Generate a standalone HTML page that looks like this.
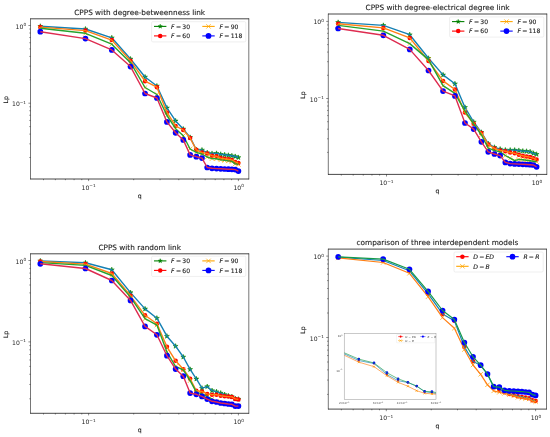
<!DOCTYPE html>
<html><head><meta charset="utf-8"><title>CPPS percolation plots</title>
<style>html,body{margin:0;padding:0;background:#fff}svg{display:block}text{font-family:'DejaVu Sans','Liberation Sans',sans-serif}</style>
</head><body>
<svg width="550" height="437" viewBox="0 0 550 437">
<rect width="550" height="437" fill="#fff"/>
<g id="a">
<clipPath id="clipa"><rect x="30.5" y="18.8" width="218.3" height="160.2"/></clipPath>
<g clip-path="url(#clipa)">
<path d="M40.33,23.70L40.92,25.50L42.80,25.50L41.28,26.61L41.86,28.40L40.33,27.29L38.80,28.40L39.39,26.61L37.86,25.50L39.75,25.50Z" fill="#008000" stroke="#008000" stroke-width="0.5" stroke-linejoin="round"/>
<path d="M85.43,26.40L86.01,28.20L87.90,28.20L86.37,29.31L86.95,31.10L85.43,29.99L83.90,31.10L84.48,29.31L82.95,28.20L84.84,28.20Z" fill="#008000" stroke="#008000" stroke-width="0.5" stroke-linejoin="round"/>
<path d="M111.80,35.20L112.39,37.00L114.28,37.00L112.75,38.11L113.33,39.90L111.80,38.79L110.28,39.90L110.86,38.11L109.33,37.00L111.22,37.00Z" fill="#008000" stroke="#008000" stroke-width="0.5" stroke-linejoin="round"/>
<path d="M130.52,56.40L131.10,58.20L132.99,58.20L131.46,59.31L132.05,61.10L130.52,59.99L128.99,61.10L129.58,59.31L128.05,58.20L129.94,58.20Z" fill="#008000" stroke="#008000" stroke-width="0.5" stroke-linejoin="round"/>
<path d="M145.04,74.40L145.62,76.20L147.51,76.20L145.98,77.31L146.57,79.10L145.04,77.99L143.51,79.10L144.09,77.31L142.56,76.20L144.45,76.20Z" fill="#008000" stroke="#008000" stroke-width="0.5" stroke-linejoin="round"/>
<path d="M156.90,83.40L157.48,85.20L159.37,85.20L157.84,86.31L158.43,88.10L156.90,86.99L155.37,88.10L155.95,86.31L154.43,85.20L156.31,85.20Z" fill="#008000" stroke="#008000" stroke-width="0.5" stroke-linejoin="round"/>
<path d="M166.93,105.30L167.51,107.10L169.40,107.10L167.87,108.21L168.46,110.00L166.93,108.89L165.40,110.00L165.98,108.21L164.45,107.10L166.34,107.10Z" fill="#008000" stroke="#008000" stroke-width="0.5" stroke-linejoin="round"/>
<path d="M175.61,118.30L176.20,120.10L178.09,120.10L176.56,121.21L177.14,123.00L175.61,121.89L174.09,123.00L174.67,121.21L173.14,120.10L175.03,120.10Z" fill="#008000" stroke="#008000" stroke-width="0.5" stroke-linejoin="round"/>
<path d="M183.28,126.40L183.86,128.20L185.75,128.20L184.22,129.31L184.81,131.10L183.28,129.99L181.75,131.10L182.33,129.31L180.80,128.20L182.69,128.20Z" fill="#008000" stroke="#008000" stroke-width="0.5" stroke-linejoin="round"/>
<path d="M190.13,134.80L190.72,136.60L192.60,136.60L191.08,137.71L191.66,139.50L190.13,138.39L188.60,139.50L189.19,137.71L187.66,136.60L189.55,136.60Z" fill="#008000" stroke="#008000" stroke-width="0.5" stroke-linejoin="round"/>
<path d="M196.33,147.20L196.92,149.00L198.80,149.00L197.28,150.11L197.86,151.90L196.33,150.79L194.80,151.90L195.39,150.11L193.86,149.00L195.75,149.00Z" fill="#008000" stroke="#008000" stroke-width="0.5" stroke-linejoin="round"/>
<path d="M201.99,147.40L202.58,149.20L204.47,149.20L202.94,150.31L203.52,152.10L201.99,150.99L200.46,152.10L201.05,150.31L199.52,149.20L201.41,149.20Z" fill="#008000" stroke="#008000" stroke-width="0.5" stroke-linejoin="round"/>
<path d="M207.20,150.10L207.78,151.90L209.67,151.90L208.14,153.01L208.73,154.80L207.20,153.69L205.67,154.80L206.26,153.01L204.73,151.90L206.62,151.90Z" fill="#008000" stroke="#008000" stroke-width="0.5" stroke-linejoin="round"/>
<path d="M212.02,150.90L212.61,152.70L214.49,152.70L212.97,153.81L213.55,155.60L212.02,154.49L210.49,155.60L211.08,153.81L209.55,152.70L211.44,152.70Z" fill="#008000" stroke="#008000" stroke-width="0.5" stroke-linejoin="round"/>
<path d="M216.51,150.80L217.09,152.60L218.98,152.60L217.45,153.71L218.04,155.50L216.51,154.39L214.98,155.50L215.57,153.71L214.04,152.60L215.93,152.60Z" fill="#008000" stroke="#008000" stroke-width="0.5" stroke-linejoin="round"/>
<path d="M220.71,151.70L221.29,153.50L223.18,153.50L221.65,154.61L222.24,156.40L220.71,155.29L219.18,156.40L219.76,154.61L218.24,153.50L220.12,153.50Z" fill="#008000" stroke="#008000" stroke-width="0.5" stroke-linejoin="round"/>
<path d="M224.65,152.20L225.24,154.00L227.13,154.00L225.60,155.11L226.18,156.90L224.65,155.79L223.12,156.90L223.71,155.11L222.18,154.00L224.07,154.00Z" fill="#008000" stroke="#008000" stroke-width="0.5" stroke-linejoin="round"/>
<path d="M228.37,152.70L228.96,154.50L230.84,154.50L229.32,155.61L229.90,157.40L228.37,156.29L226.84,157.40L227.43,155.61L225.90,154.50L227.79,154.50Z" fill="#008000" stroke="#008000" stroke-width="0.5" stroke-linejoin="round"/>
<path d="M231.89,153.20L232.47,155.00L234.36,155.00L232.83,156.11L233.42,157.90L231.89,156.79L230.36,157.90L230.94,156.11L229.42,155.00L231.31,155.00Z" fill="#008000" stroke="#008000" stroke-width="0.5" stroke-linejoin="round"/>
<path d="M235.23,153.90L235.81,155.70L237.70,155.70L236.17,156.81L236.75,158.60L235.23,157.49L233.70,158.60L234.28,156.81L232.75,155.70L234.64,155.70Z" fill="#008000" stroke="#008000" stroke-width="0.5" stroke-linejoin="round"/>
<path d="M238.40,154.90L238.98,156.70L240.87,156.70L239.34,157.81L239.93,159.60L238.40,158.49L236.87,159.60L237.46,157.81L235.93,156.70L237.82,156.70Z" fill="#008000" stroke="#008000" stroke-width="0.5" stroke-linejoin="round"/>
<polyline points="40.33,26.30 85.43,29.00 111.80,37.80 130.52,59.00 145.04,77.00 156.90,86.00 166.93,107.90 175.61,120.90 183.28,129.00 190.13,137.40 196.33,149.80 201.99,150.00 207.20,152.70 212.02,153.50 216.51,153.40 220.71,154.30 224.65,154.80 228.37,155.30 231.89,155.80 235.23,156.50 238.40,157.50" fill="none" stroke="#1580b4" stroke-width="1.4" stroke-linejoin="round" stroke-linecap="butt"/>
<circle cx="40.33" cy="27.10" r="2.25" fill="#ff0000"/>
<circle cx="85.43" cy="30.60" r="2.25" fill="#ff0000"/>
<circle cx="111.80" cy="40.10" r="2.25" fill="#ff0000"/>
<circle cx="130.52" cy="60.80" r="2.25" fill="#ff0000"/>
<circle cx="145.04" cy="81.20" r="2.25" fill="#ff0000"/>
<circle cx="156.90" cy="87.20" r="2.25" fill="#ff0000"/>
<circle cx="166.93" cy="112.40" r="2.25" fill="#ff0000"/>
<circle cx="175.61" cy="126.00" r="2.25" fill="#ff0000"/>
<circle cx="183.28" cy="130.00" r="2.25" fill="#ff0000"/>
<circle cx="190.13" cy="138.00" r="2.25" fill="#ff0000"/>
<circle cx="196.33" cy="149.80" r="2.25" fill="#ff0000"/>
<circle cx="201.99" cy="152.60" r="2.25" fill="#ff0000"/>
<circle cx="207.20" cy="153.50" r="2.25" fill="#ff0000"/>
<circle cx="212.02" cy="155.70" r="2.25" fill="#ff0000"/>
<circle cx="216.51" cy="156.30" r="2.25" fill="#ff0000"/>
<circle cx="220.71" cy="158.10" r="2.25" fill="#ff0000"/>
<circle cx="224.65" cy="158.80" r="2.25" fill="#ff0000"/>
<circle cx="228.37" cy="159.30" r="2.25" fill="#ff0000"/>
<circle cx="231.89" cy="159.90" r="2.25" fill="#ff0000"/>
<circle cx="235.23" cy="161.90" r="2.25" fill="#ff0000"/>
<circle cx="238.40" cy="162.90" r="2.25" fill="#ff0000"/>
<polyline points="40.33,27.10 85.43,30.60 111.80,40.10 130.52,60.80 145.04,81.20 156.90,87.20 166.93,112.40 175.61,126.00 183.28,130.00 190.13,138.00 196.33,149.80 201.99,152.60 207.20,153.50 212.02,155.70 216.51,156.30 220.71,158.10 224.65,158.80 228.37,159.30 231.89,159.90 235.23,161.90 238.40,162.90" fill="none" stroke="#ff7f14" stroke-width="1.4" stroke-linejoin="round" stroke-linecap="butt"/>
<path d="M38.13,26.10L42.53,30.50M38.13,30.50L42.53,26.10" stroke="#ffa500" stroke-width="0.75" fill="none"/>
<path d="M83.23,31.10L87.63,35.50M83.23,35.50L87.63,31.10" stroke="#ffa500" stroke-width="0.75" fill="none"/>
<path d="M109.60,42.00L114.00,46.40M109.60,46.40L114.00,42.00" stroke="#ffa500" stroke-width="0.75" fill="none"/>
<path d="M128.32,60.50L132.72,64.90M128.32,64.90L132.72,60.50" stroke="#ffa500" stroke-width="0.75" fill="none"/>
<path d="M142.84,85.30L147.24,89.70M142.84,89.70L147.24,85.30" stroke="#ffa500" stroke-width="0.75" fill="none"/>
<path d="M154.70,92.30L159.10,96.70M154.70,96.70L159.10,92.30" stroke="#ffa500" stroke-width="0.75" fill="none"/>
<path d="M164.73,113.30L169.13,117.70M164.73,117.70L169.13,113.30" stroke="#ffa500" stroke-width="0.75" fill="none"/>
<path d="M173.41,126.50L177.81,130.90M173.41,130.90L177.81,126.50" stroke="#ffa500" stroke-width="0.75" fill="none"/>
<path d="M181.08,133.50L185.48,137.90M181.08,137.90L185.48,133.50" stroke="#ffa500" stroke-width="0.75" fill="none"/>
<path d="M187.93,146.80L192.33,151.20M187.93,151.20L192.33,146.80" stroke="#ffa500" stroke-width="0.75" fill="none"/>
<path d="M194.13,150.20L198.53,154.60M194.13,154.60L198.53,150.20" stroke="#ffa500" stroke-width="0.75" fill="none"/>
<path d="M199.79,151.80L204.19,156.20M199.79,156.20L204.19,151.80" stroke="#ffa500" stroke-width="0.75" fill="none"/>
<path d="M205.00,154.80L209.40,159.20M205.00,159.20L209.40,154.80" stroke="#ffa500" stroke-width="0.75" fill="none"/>
<path d="M209.82,156.40L214.22,160.80M209.82,160.80L214.22,156.40" stroke="#ffa500" stroke-width="0.75" fill="none"/>
<path d="M214.31,156.60L218.71,161.00M214.31,161.00L218.71,156.60" stroke="#ffa500" stroke-width="0.75" fill="none"/>
<path d="M218.51,157.70L222.91,162.10M218.51,162.10L222.91,157.70" stroke="#ffa500" stroke-width="0.75" fill="none"/>
<path d="M222.45,158.20L226.85,162.60M222.45,162.60L226.85,158.20" stroke="#ffa500" stroke-width="0.75" fill="none"/>
<path d="M226.17,158.70L230.57,163.10M226.17,163.10L230.57,158.70" stroke="#ffa500" stroke-width="0.75" fill="none"/>
<path d="M229.69,159.20L234.09,163.60M229.69,163.60L234.09,159.20" stroke="#ffa500" stroke-width="0.75" fill="none"/>
<path d="M233.03,161.70L237.43,166.10M233.03,166.10L237.43,161.70" stroke="#ffa500" stroke-width="0.75" fill="none"/>
<path d="M236.20,162.20L240.60,166.60M236.20,166.60L240.60,162.20" stroke="#ffa500" stroke-width="0.75" fill="none"/>
<polyline points="40.33,28.30 85.43,33.30 111.80,44.20 130.52,62.70 145.04,87.50 156.90,94.50 166.93,115.50 175.61,128.70 183.28,135.70 190.13,149.00 196.33,152.40 201.99,154.00 207.20,157.00 212.02,158.60 216.51,158.80 220.71,159.90 224.65,160.40 228.37,160.90 231.89,161.40 235.23,163.90 238.40,164.40" fill="none" stroke="#26a32d" stroke-width="1.4" stroke-linejoin="round" stroke-linecap="butt"/>
<circle cx="40.33" cy="31.70" r="2.85" fill="#0000ff"/>
<circle cx="85.43" cy="38.60" r="2.85" fill="#0000ff"/>
<circle cx="111.80" cy="49.90" r="2.85" fill="#0000ff"/>
<circle cx="130.52" cy="66.60" r="2.85" fill="#0000ff"/>
<circle cx="145.04" cy="93.50" r="2.85" fill="#0000ff"/>
<circle cx="156.90" cy="98.00" r="2.85" fill="#0000ff"/>
<circle cx="166.93" cy="121.90" r="2.85" fill="#0000ff"/>
<circle cx="175.61" cy="132.80" r="2.85" fill="#0000ff"/>
<circle cx="183.28" cy="139.90" r="2.85" fill="#0000ff"/>
<circle cx="190.13" cy="154.90" r="2.85" fill="#0000ff"/>
<circle cx="196.33" cy="156.70" r="2.85" fill="#0000ff"/>
<circle cx="201.99" cy="158.10" r="2.85" fill="#0000ff"/>
<circle cx="207.20" cy="167.50" r="2.85" fill="#0000ff"/>
<circle cx="212.02" cy="168.30" r="2.85" fill="#0000ff"/>
<circle cx="216.51" cy="168.60" r="2.85" fill="#0000ff"/>
<circle cx="220.71" cy="168.80" r="2.85" fill="#0000ff"/>
<circle cx="224.65" cy="169.00" r="2.85" fill="#0000ff"/>
<circle cx="228.37" cy="169.20" r="2.85" fill="#0000ff"/>
<circle cx="231.89" cy="169.30" r="2.85" fill="#0000ff"/>
<circle cx="235.23" cy="169.60" r="2.85" fill="#0000ff"/>
<circle cx="238.40" cy="171.10" r="2.85" fill="#0000ff"/>
<polyline points="40.33,31.70 85.43,38.60 111.80,49.90 130.52,66.60 145.04,93.50 156.90,98.00 166.93,121.90 175.61,132.80 183.28,139.90 190.13,154.90 196.33,156.70 201.99,158.10 207.20,167.50 212.02,168.30 216.51,168.60 220.71,168.80 224.65,169.00 228.37,169.20 231.89,169.30 235.23,169.60 238.40,171.10" fill="none" stroke="#de2c50" stroke-width="1.4" stroke-linejoin="round" stroke-linecap="butt"/>
</g>
<path d="M30.5,18.5V179.3M248.8,18.5V179.3" fill="none" stroke="#1a1a1a" stroke-width="0.6"/>
<path d="M30.2,18.8H249.10000000000002M30.2,179.0H249.10000000000002" fill="none" stroke="#1a1a1a" stroke-width="0.8"/>
<path d="M88.60,179.0v2.1M30.5,103.20h-2.1M238.40,179.0v2.1M30.5,25.50h-2.1M30.5,157.51h-1.2M30.5,143.83h-1.2M30.5,134.12h-1.2M43.51,179.0v1.2M30.5,126.59h-1.2M55.37,179.0v1.2M30.5,120.44h-1.2M65.40,179.0v1.2M30.5,115.24h-1.2M74.08,179.0v1.2M30.5,110.73h-1.2M81.75,179.0v1.2M30.5,106.76h-1.2M133.69,179.0v1.2M30.5,79.81h-1.2M160.07,179.0v1.2M30.5,66.13h-1.2M178.79,179.0v1.2M30.5,56.42h-1.2M193.31,179.0v1.2M30.5,48.89h-1.2M205.17,179.0v1.2M30.5,42.74h-1.2M215.20,179.0v1.2M30.5,37.54h-1.2M223.88,179.0v1.2M30.5,33.03h-1.2M231.55,179.0v1.2M30.5,29.06h-1.2" stroke="#1a1a1a" stroke-width="0.5" fill="none"/>
<text x="88.60" y="190.00" font-size="6.1" text-anchor="middle" fill="#1c1c1c">10<tspan font-size="4.27" dy="-2.56">−1</tspan></text>
<text x="238.70" y="190.00" font-size="6.1" text-anchor="middle" fill="#1c1c1c">10<tspan font-size="4.27" dy="-2.56">0</tspan></text>
<text x="26.10" y="28.50" font-size="6.1" text-anchor="end" fill="#1c1c1c">10<tspan font-size="4.27" dy="-2.56">0</tspan></text>
<text x="26.10" y="106.20" font-size="6.1" text-anchor="end" fill="#1c1c1c">10<tspan font-size="4.27" dy="-2.56">−1</tspan></text>
<text x="139.65" y="198.00" font-size="6.1" text-anchor="middle" fill="#1c1c1c" stroke="#1c1c1c" stroke-width="0.12">q</text>
<text transform="translate(7.50,99.80) rotate(-90)" font-size="6.1" text-anchor="middle" fill="#1c1c1c" stroke="#1c1c1c" stroke-width="0.12">Lp</text>
<text x="139.65" y="14.60" font-size="7.33" text-anchor="middle" fill="#1c1c1c" stroke="#1c1c1c" stroke-width="0.12">CPPS with degree-betweenness link</text>
<rect x="151.60000000000002" y="21.7" width="94.20" height="20.20" rx="1.2" fill="#fff" fill-opacity="0.8" stroke="#dedede" stroke-width="0.5"/>
<path d="M154.00,26.40h12.4" stroke="#008000" stroke-width="1.1" fill="none"/>
<path d="M160.20,24.20L160.69,25.72L162.29,25.72L161.00,26.66L161.49,28.18L160.20,27.24L158.91,28.18L159.40,26.66L158.11,25.72L159.71,25.72Z" fill="#008000" stroke="#008000" stroke-width="0.5" stroke-linejoin="round"/>
<text x="171.10" y="28.60" font-size="6.1" fill="#1c1c1c" stroke="#1c1c1c" stroke-width="0.12"><tspan font-style="oblique">F</tspan><tspan dx="1.3">=</tspan><tspan dx="1.3">30</tspan></text>
<path d="M154.00,35.90h12.4" stroke="#ff0000" stroke-width="1.1" fill="none"/>
<circle cx="160.20" cy="35.90" r="2.25" fill="#ff0000"/>
<text x="171.10" y="38.10" font-size="6.1" fill="#1c1c1c" stroke="#1c1c1c" stroke-width="0.12"><tspan font-style="oblique">F</tspan><tspan dx="1.3">=</tspan><tspan dx="1.3">60</tspan></text>
<path d="M202.30,26.40h12.4" stroke="#ffa500" stroke-width="1.1" fill="none"/>
<path d="M206.30,24.20L210.70,28.60M206.30,28.60L210.70,24.20" stroke="#ffa500" stroke-width="0.75" fill="none"/>
<text x="219.40" y="28.60" font-size="6.1" fill="#1c1c1c" stroke="#1c1c1c" stroke-width="0.12"><tspan font-style="oblique">F</tspan><tspan dx="1.3">=</tspan><tspan dx="1.3">90</tspan></text>
<path d="M202.30,35.90h12.4" stroke="#0000ff" stroke-width="1.1" fill="none"/>
<circle cx="208.50" cy="35.90" r="2.85" fill="#0000ff"/>
<text x="219.40" y="38.10" font-size="6.1" fill="#1c1c1c" stroke="#1c1c1c" stroke-width="0.12"><tspan font-style="oblique">F</tspan><tspan dx="1.3">=</tspan><tspan dx="1.3">118</tspan></text>
</g>
<g id="b">
<clipPath id="clipb"><rect x="328.3" y="14.0" width="218.49999999999994" height="160.4"/></clipPath>
<g clip-path="url(#clipb)">
<path d="M338.13,19.80L338.72,21.60L340.61,21.60L339.08,22.71L339.66,24.50L338.13,23.39L336.61,24.50L337.19,22.71L335.66,21.60L337.55,21.60Z" fill="#008000" stroke="#008000" stroke-width="0.5" stroke-linejoin="round"/>
<path d="M383.32,22.80L383.90,24.60L385.79,24.60L384.26,25.71L384.85,27.50L383.32,26.39L381.79,27.50L382.37,25.71L380.85,24.60L382.74,24.60Z" fill="#008000" stroke="#008000" stroke-width="0.5" stroke-linejoin="round"/>
<path d="M409.75,32.10L410.33,33.90L412.22,33.90L410.70,35.01L411.28,36.80L409.75,35.69L408.22,36.80L408.81,35.01L407.28,33.90L409.17,33.90Z" fill="#008000" stroke="#008000" stroke-width="0.5" stroke-linejoin="round"/>
<path d="M428.50,55.70L429.09,57.50L430.98,57.50L429.45,58.61L430.03,60.40L428.50,59.29L426.98,60.40L427.56,58.61L426.03,57.50L427.92,57.50Z" fill="#008000" stroke="#008000" stroke-width="0.5" stroke-linejoin="round"/>
<path d="M443.05,72.30L443.63,74.10L445.52,74.10L443.99,75.21L444.58,77.00L443.05,75.89L441.52,77.00L442.11,75.21L440.58,74.10L442.47,74.10Z" fill="#008000" stroke="#008000" stroke-width="0.5" stroke-linejoin="round"/>
<path d="M454.94,81.20L455.52,83.00L457.41,83.00L455.88,84.11L456.46,85.90L454.94,84.79L453.41,85.90L453.99,84.11L452.46,83.00L454.35,83.00Z" fill="#008000" stroke="#008000" stroke-width="0.5" stroke-linejoin="round"/>
<path d="M464.98,104.80L465.57,106.60L467.46,106.60L465.93,107.71L466.51,109.50L464.98,108.39L463.46,109.50L464.04,107.71L462.51,106.60L464.40,106.60Z" fill="#008000" stroke="#008000" stroke-width="0.5" stroke-linejoin="round"/>
<path d="M473.69,119.40L474.27,121.20L476.16,121.20L474.63,122.31L475.22,124.10L473.69,122.99L472.16,124.10L472.74,122.31L471.22,121.20L473.10,121.20Z" fill="#008000" stroke="#008000" stroke-width="0.5" stroke-linejoin="round"/>
<path d="M481.37,129.70L481.95,131.50L483.84,131.50L482.31,132.61L482.89,134.40L481.37,133.29L479.84,134.40L480.42,132.61L478.89,131.50L480.78,131.50Z" fill="#008000" stroke="#008000" stroke-width="0.5" stroke-linejoin="round"/>
<path d="M488.23,141.10L488.82,142.90L490.71,142.90L489.18,144.01L489.76,145.80L488.23,144.69L486.71,145.80L487.29,144.01L485.76,142.90L487.65,142.90Z" fill="#008000" stroke="#008000" stroke-width="0.5" stroke-linejoin="round"/>
<path d="M494.45,144.70L495.03,146.50L496.92,146.50L495.39,147.61L495.98,149.40L494.45,148.29L492.92,149.40L493.50,147.61L491.98,146.50L493.86,146.50Z" fill="#008000" stroke="#008000" stroke-width="0.5" stroke-linejoin="round"/>
<path d="M500.12,146.50L500.70,148.30L502.59,148.30L501.06,149.41L501.65,151.20L500.12,150.09L498.59,151.20L499.18,149.41L497.65,148.30L499.54,148.30Z" fill="#008000" stroke="#008000" stroke-width="0.5" stroke-linejoin="round"/>
<path d="M505.34,147.40L505.92,149.20L507.81,149.20L506.28,150.31L506.87,152.10L505.34,150.99L503.81,152.10L504.39,150.31L502.87,149.20L504.75,149.20Z" fill="#008000" stroke="#008000" stroke-width="0.5" stroke-linejoin="round"/>
<path d="M510.17,147.50L510.75,149.30L512.64,149.30L511.11,150.41L511.70,152.20L510.17,151.09L508.64,152.20L509.22,150.41L507.70,149.30L509.58,149.30Z" fill="#008000" stroke="#008000" stroke-width="0.5" stroke-linejoin="round"/>
<path d="M514.67,147.50L515.25,149.30L517.14,149.30L515.61,150.41L516.19,152.20L514.67,151.09L513.14,152.20L513.72,150.41L512.19,149.30L514.08,149.30Z" fill="#008000" stroke="#008000" stroke-width="0.5" stroke-linejoin="round"/>
<path d="M518.87,147.90L519.46,149.70L521.35,149.70L519.82,150.81L520.40,152.60L518.87,151.49L517.35,152.60L517.93,150.81L516.40,149.70L518.29,149.70Z" fill="#008000" stroke="#008000" stroke-width="0.5" stroke-linejoin="round"/>
<path d="M522.83,148.50L523.41,150.30L525.30,150.30L523.77,151.41L524.35,153.20L522.83,152.09L521.30,153.20L521.88,151.41L520.35,150.30L522.24,150.30Z" fill="#008000" stroke="#008000" stroke-width="0.5" stroke-linejoin="round"/>
<path d="M526.55,148.70L527.14,150.50L529.02,150.50L527.50,151.61L528.08,153.40L526.55,152.29L525.02,153.40L525.61,151.61L524.08,150.50L525.97,150.50Z" fill="#008000" stroke="#008000" stroke-width="0.5" stroke-linejoin="round"/>
<path d="M530.08,149.20L530.66,151.00L532.55,151.00L531.02,152.11L531.60,153.90L530.08,152.79L528.55,153.90L529.13,152.11L527.60,151.00L529.49,151.00Z" fill="#008000" stroke="#008000" stroke-width="0.5" stroke-linejoin="round"/>
<path d="M533.42,150.70L534.00,152.50L535.89,152.50L534.36,153.61L534.95,155.40L533.42,154.29L531.89,155.40L532.47,153.61L530.95,152.50L532.84,152.50Z" fill="#008000" stroke="#008000" stroke-width="0.5" stroke-linejoin="round"/>
<path d="M536.60,151.70L537.18,153.50L539.07,153.50L537.54,154.61L538.13,156.40L536.60,155.29L535.07,156.40L535.66,154.61L534.13,153.50L536.02,153.50Z" fill="#008000" stroke="#008000" stroke-width="0.5" stroke-linejoin="round"/>
<polyline points="338.13,22.40 383.32,25.40 409.75,34.70 428.50,58.30 443.05,74.90 454.94,83.80 464.98,107.40 473.69,122.00 481.37,132.30 488.23,143.70 494.45,147.30 500.12,149.10 505.34,150.00 510.17,150.10 514.67,150.10 518.87,150.50 522.83,151.10 526.55,151.30 530.08,151.80 533.42,153.30 536.60,154.30" fill="none" stroke="#1580b4" stroke-width="1.4" stroke-linejoin="round" stroke-linecap="butt"/>
<circle cx="338.13" cy="23.70" r="2.25" fill="#ff0000"/>
<circle cx="383.32" cy="27.90" r="2.25" fill="#ff0000"/>
<circle cx="409.75" cy="37.90" r="2.25" fill="#ff0000"/>
<circle cx="428.50" cy="61.00" r="2.25" fill="#ff0000"/>
<circle cx="443.05" cy="80.90" r="2.25" fill="#ff0000"/>
<circle cx="454.94" cy="89.50" r="2.25" fill="#ff0000"/>
<circle cx="464.98" cy="112.50" r="2.25" fill="#ff0000"/>
<circle cx="473.69" cy="123.70" r="2.25" fill="#ff0000"/>
<circle cx="481.37" cy="132.90" r="2.25" fill="#ff0000"/>
<circle cx="488.23" cy="144.40" r="2.25" fill="#ff0000"/>
<circle cx="494.45" cy="148.40" r="2.25" fill="#ff0000"/>
<circle cx="500.12" cy="150.40" r="2.25" fill="#ff0000"/>
<circle cx="505.34" cy="151.30" r="2.25" fill="#ff0000"/>
<circle cx="510.17" cy="152.50" r="2.25" fill="#ff0000"/>
<circle cx="514.67" cy="153.30" r="2.25" fill="#ff0000"/>
<circle cx="518.87" cy="154.80" r="2.25" fill="#ff0000"/>
<circle cx="522.83" cy="155.80" r="2.25" fill="#ff0000"/>
<circle cx="526.55" cy="156.50" r="2.25" fill="#ff0000"/>
<circle cx="530.08" cy="157.10" r="2.25" fill="#ff0000"/>
<circle cx="533.42" cy="158.20" r="2.25" fill="#ff0000"/>
<circle cx="536.60" cy="159.40" r="2.25" fill="#ff0000"/>
<polyline points="338.13,23.70 383.32,27.90 409.75,37.90 428.50,61.00 443.05,80.90 454.94,89.50 464.98,112.50 473.69,123.70 481.37,132.90 488.23,144.40 494.45,148.40 500.12,150.40 505.34,151.30 510.17,152.50 514.67,153.30 518.87,154.80 522.83,155.80 526.55,156.50 530.08,157.10 533.42,158.20 536.60,159.40" fill="none" stroke="#ff7f14" stroke-width="1.4" stroke-linejoin="round" stroke-linecap="butt"/>
<path d="M335.93,23.20L340.33,27.60M335.93,27.60L340.33,23.20" stroke="#ffa500" stroke-width="0.75" fill="none"/>
<path d="M381.12,28.90L385.52,33.30M381.12,33.30L385.52,28.90" stroke="#ffa500" stroke-width="0.75" fill="none"/>
<path d="M407.55,41.40L411.95,45.80M407.55,45.80L411.95,41.40" stroke="#ffa500" stroke-width="0.75" fill="none"/>
<path d="M426.30,57.40L430.70,61.80M426.30,61.80L430.70,57.40" stroke="#ffa500" stroke-width="0.75" fill="none"/>
<path d="M440.85,83.50L445.25,87.90M440.85,87.90L445.25,83.50" stroke="#ffa500" stroke-width="0.75" fill="none"/>
<path d="M452.74,91.20L457.14,95.60M452.74,95.60L457.14,91.20" stroke="#ffa500" stroke-width="0.75" fill="none"/>
<path d="M462.78,109.00L467.18,113.40M462.78,113.40L467.18,109.00" stroke="#ffa500" stroke-width="0.75" fill="none"/>
<path d="M471.49,121.80L475.89,126.20M471.49,126.20L475.89,121.80" stroke="#ffa500" stroke-width="0.75" fill="none"/>
<path d="M479.17,132.60L483.57,137.00M479.17,137.00L483.57,132.60" stroke="#ffa500" stroke-width="0.75" fill="none"/>
<path d="M486.03,146.00L490.43,150.40M486.03,150.40L490.43,146.00" stroke="#ffa500" stroke-width="0.75" fill="none"/>
<path d="M492.25,148.30L496.65,152.70M492.25,152.70L496.65,148.30" stroke="#ffa500" stroke-width="0.75" fill="none"/>
<path d="M497.92,149.70L502.32,154.10M497.92,154.10L502.32,149.70" stroke="#ffa500" stroke-width="0.75" fill="none"/>
<path d="M503.14,153.30L507.54,157.70M503.14,157.70L507.54,153.30" stroke="#ffa500" stroke-width="0.75" fill="none"/>
<path d="M507.97,156.00L512.37,160.40M507.97,160.40L512.37,156.00" stroke="#ffa500" stroke-width="0.75" fill="none"/>
<path d="M512.47,158.40L516.87,162.80M512.47,162.80L516.87,158.40" stroke="#ffa500" stroke-width="0.75" fill="none"/>
<path d="M516.67,157.20L521.07,161.60M516.67,161.60L521.07,157.20" stroke="#ffa500" stroke-width="0.75" fill="none"/>
<path d="M520.63,157.50L525.03,161.90M520.63,161.90L525.03,157.50" stroke="#ffa500" stroke-width="0.75" fill="none"/>
<path d="M524.35,158.10L528.75,162.50M524.35,162.50L528.75,158.10" stroke="#ffa500" stroke-width="0.75" fill="none"/>
<path d="M527.88,158.50L532.28,162.90M527.88,162.90L532.28,158.50" stroke="#ffa500" stroke-width="0.75" fill="none"/>
<path d="M531.22,159.10L535.62,163.50M531.22,163.50L535.62,159.10" stroke="#ffa500" stroke-width="0.75" fill="none"/>
<path d="M534.40,159.50L538.80,163.90M534.40,163.90L538.80,159.50" stroke="#ffa500" stroke-width="0.75" fill="none"/>
<polyline points="338.13,25.40 383.32,31.10 409.75,43.60 428.50,59.60 443.05,85.70 454.94,93.40 464.98,111.20 473.69,124.00 481.37,134.80 488.23,148.20 494.45,150.50 500.12,151.90 505.34,155.50 510.17,158.20 514.67,160.60 518.87,159.40 522.83,159.70 526.55,160.30 530.08,160.70 533.42,161.30 536.60,161.70" fill="none" stroke="#26a32d" stroke-width="1.4" stroke-linejoin="round" stroke-linecap="butt"/>
<circle cx="338.13" cy="28.50" r="2.85" fill="#0000ff"/>
<circle cx="383.32" cy="35.30" r="2.85" fill="#0000ff"/>
<circle cx="409.75" cy="49.40" r="2.85" fill="#0000ff"/>
<circle cx="428.50" cy="70.50" r="2.85" fill="#0000ff"/>
<circle cx="443.05" cy="91.10" r="2.85" fill="#0000ff"/>
<circle cx="454.94" cy="95.90" r="2.85" fill="#0000ff"/>
<circle cx="464.98" cy="123.00" r="2.85" fill="#0000ff"/>
<circle cx="473.69" cy="129.10" r="2.85" fill="#0000ff"/>
<circle cx="481.37" cy="141.80" r="2.85" fill="#0000ff"/>
<circle cx="488.23" cy="151.80" r="2.85" fill="#0000ff"/>
<circle cx="494.45" cy="154.00" r="2.85" fill="#0000ff"/>
<circle cx="500.12" cy="155.60" r="2.85" fill="#0000ff"/>
<circle cx="505.34" cy="162.40" r="2.85" fill="#0000ff"/>
<circle cx="510.17" cy="163.60" r="2.85" fill="#0000ff"/>
<circle cx="514.67" cy="163.90" r="2.85" fill="#0000ff"/>
<circle cx="518.87" cy="164.10" r="2.85" fill="#0000ff"/>
<circle cx="522.83" cy="164.30" r="2.85" fill="#0000ff"/>
<circle cx="526.55" cy="164.50" r="2.85" fill="#0000ff"/>
<circle cx="530.08" cy="164.70" r="2.85" fill="#0000ff"/>
<circle cx="533.42" cy="165.00" r="2.85" fill="#0000ff"/>
<circle cx="536.60" cy="166.80" r="2.85" fill="#0000ff"/>
<polyline points="338.13,28.50 383.32,35.30 409.75,49.40 428.50,70.50 443.05,91.10 454.94,95.90 464.98,123.00 473.69,129.10 481.37,141.80 488.23,151.80 494.45,154.00 500.12,155.60 505.34,162.40 510.17,163.60 514.67,163.90 518.87,164.10 522.83,164.30 526.55,164.50 530.08,164.70 533.42,165.00 536.60,166.80" fill="none" stroke="#de2c50" stroke-width="1.4" stroke-linejoin="round" stroke-linecap="butt"/>
</g>
<path d="M328.3,13.7V174.70000000000002M546.8,13.7V174.70000000000002" fill="none" stroke="#1a1a1a" stroke-width="0.6"/>
<path d="M328.0,14.0H547.0999999999999M328.0,174.4H547.0999999999999" fill="none" stroke="#1a1a1a" stroke-width="0.8"/>
<path d="M386.50,174.4v2.1M328.3,98.50h-2.1M536.60,174.4v2.1M328.3,21.40h-2.1M328.3,152.39h-1.2M328.3,138.81h-1.2M328.3,129.18h-1.2M341.32,174.4v1.2M328.3,121.71h-1.2M353.20,174.4v1.2M328.3,115.60h-1.2M363.25,174.4v1.2M328.3,110.44h-1.2M371.95,174.4v1.2M328.3,105.97h-1.2M379.63,174.4v1.2M328.3,102.03h-1.2M431.68,174.4v1.2M328.3,75.29h-1.2M458.12,174.4v1.2M328.3,61.71h-1.2M476.87,174.4v1.2M328.3,52.08h-1.2M491.42,174.4v1.2M328.3,44.61h-1.2M503.30,174.4v1.2M328.3,38.50h-1.2M513.35,174.4v1.2M328.3,33.34h-1.2M522.05,174.4v1.2M328.3,28.87h-1.2M529.73,174.4v1.2M328.3,24.93h-1.2" stroke="#1a1a1a" stroke-width="0.5" fill="none"/>
<text x="386.50" y="185.40" font-size="6.1" text-anchor="middle" fill="#1c1c1c">10<tspan font-size="4.27" dy="-2.56">−1</tspan></text>
<text x="536.90" y="185.40" font-size="6.1" text-anchor="middle" fill="#1c1c1c">10<tspan font-size="4.27" dy="-2.56">0</tspan></text>
<text x="323.90" y="24.40" font-size="6.1" text-anchor="end" fill="#1c1c1c">10<tspan font-size="4.27" dy="-2.56">0</tspan></text>
<text x="323.90" y="101.50" font-size="6.1" text-anchor="end" fill="#1c1c1c">10<tspan font-size="4.27" dy="-2.56">−1</tspan></text>
<text x="437.55" y="193.40" font-size="6.1" text-anchor="middle" fill="#1c1c1c" stroke="#1c1c1c" stroke-width="0.12">q</text>
<text transform="translate(305.30,95.10) rotate(-90)" font-size="6.1" text-anchor="middle" fill="#1c1c1c" stroke="#1c1c1c" stroke-width="0.12">Lp</text>
<text x="437.55" y="9.80" font-size="7.33" text-anchor="middle" fill="#1c1c1c" stroke="#1c1c1c" stroke-width="0.12">CPPS with degree-electrical degree link</text>
<rect x="449.59999999999997" y="16.9" width="94.20" height="20.20" rx="1.2" fill="#fff" fill-opacity="0.8" stroke="#dedede" stroke-width="0.5"/>
<path d="M452.00,21.60h12.4" stroke="#008000" stroke-width="1.1" fill="none"/>
<path d="M458.20,19.40L458.69,20.92L460.29,20.92L459.00,21.86L459.49,23.38L458.20,22.44L456.91,23.38L457.40,21.86L456.11,20.92L457.71,20.92Z" fill="#008000" stroke="#008000" stroke-width="0.5" stroke-linejoin="round"/>
<text x="469.10" y="23.80" font-size="6.1" fill="#1c1c1c" stroke="#1c1c1c" stroke-width="0.12"><tspan font-style="oblique">F</tspan><tspan dx="1.3">=</tspan><tspan dx="1.3">30</tspan></text>
<path d="M452.00,31.10h12.4" stroke="#ff0000" stroke-width="1.1" fill="none"/>
<circle cx="458.20" cy="31.10" r="2.25" fill="#ff0000"/>
<text x="469.10" y="33.30" font-size="6.1" fill="#1c1c1c" stroke="#1c1c1c" stroke-width="0.12"><tspan font-style="oblique">F</tspan><tspan dx="1.3">=</tspan><tspan dx="1.3">60</tspan></text>
<path d="M500.30,21.60h12.4" stroke="#ffa500" stroke-width="1.1" fill="none"/>
<path d="M504.30,19.40L508.70,23.80M504.30,23.80L508.70,19.40" stroke="#ffa500" stroke-width="0.75" fill="none"/>
<text x="517.40" y="23.80" font-size="6.1" fill="#1c1c1c" stroke="#1c1c1c" stroke-width="0.12"><tspan font-style="oblique">F</tspan><tspan dx="1.3">=</tspan><tspan dx="1.3">90</tspan></text>
<path d="M500.30,31.10h12.4" stroke="#0000ff" stroke-width="1.1" fill="none"/>
<circle cx="506.50" cy="31.10" r="2.85" fill="#0000ff"/>
<text x="517.40" y="33.30" font-size="6.1" fill="#1c1c1c" stroke="#1c1c1c" stroke-width="0.12"><tspan font-style="oblique">F</tspan><tspan dx="1.3">=</tspan><tspan dx="1.3">118</tspan></text>
</g>
<g id="c">
<clipPath id="clipc"><rect x="30.5" y="253.8" width="218.3" height="159.5"/></clipPath>
<g clip-path="url(#clipc)">
<path d="M40.33,258.30L40.92,260.10L42.80,260.10L41.28,261.21L41.86,263.00L40.33,261.89L38.80,263.00L39.39,261.21L37.86,260.10L39.75,260.10Z" fill="#008000" stroke="#008000" stroke-width="0.5" stroke-linejoin="round"/>
<path d="M85.43,260.20L86.01,262.00L87.90,262.00L86.37,263.11L86.95,264.90L85.43,263.79L83.90,264.90L84.48,263.11L82.95,262.00L84.84,262.00Z" fill="#008000" stroke="#008000" stroke-width="0.5" stroke-linejoin="round"/>
<path d="M111.80,267.10L112.39,268.90L114.28,268.90L112.75,270.01L113.33,271.80L111.80,270.69L110.28,271.80L110.86,270.01L109.33,268.90L111.22,268.90Z" fill="#008000" stroke="#008000" stroke-width="0.5" stroke-linejoin="round"/>
<path d="M130.52,290.00L131.10,291.80L132.99,291.80L131.46,292.91L132.05,294.70L130.52,293.59L128.99,294.70L129.58,292.91L128.05,291.80L129.94,291.80Z" fill="#008000" stroke="#008000" stroke-width="0.5" stroke-linejoin="round"/>
<path d="M145.04,306.30L145.62,308.10L147.51,308.10L145.98,309.21L146.57,311.00L145.04,309.89L143.51,311.00L144.09,309.21L142.56,308.10L144.45,308.10Z" fill="#008000" stroke="#008000" stroke-width="0.5" stroke-linejoin="round"/>
<path d="M156.90,315.60L157.48,317.40L159.37,317.40L157.84,318.51L158.43,320.30L156.90,319.19L155.37,320.30L155.95,318.51L154.43,317.40L156.31,317.40Z" fill="#008000" stroke="#008000" stroke-width="0.5" stroke-linejoin="round"/>
<path d="M166.93,333.60L167.51,335.40L169.40,335.40L167.87,336.51L168.46,338.30L166.93,337.19L165.40,338.30L165.98,336.51L164.45,335.40L166.34,335.40Z" fill="#008000" stroke="#008000" stroke-width="0.5" stroke-linejoin="round"/>
<path d="M175.61,343.60L176.20,345.40L178.09,345.40L176.56,346.51L177.14,348.30L175.61,347.19L174.09,348.30L174.67,346.51L173.14,345.40L175.03,345.40Z" fill="#008000" stroke="#008000" stroke-width="0.5" stroke-linejoin="round"/>
<path d="M183.28,354.40L183.86,356.20L185.75,356.20L184.22,357.31L184.81,359.10L183.28,357.99L181.75,359.10L182.33,357.31L180.80,356.20L182.69,356.20Z" fill="#008000" stroke="#008000" stroke-width="0.5" stroke-linejoin="round"/>
<path d="M190.13,366.80L190.72,368.60L192.60,368.60L191.08,369.71L191.66,371.50L190.13,370.39L188.60,371.50L189.19,369.71L187.66,368.60L189.55,368.60Z" fill="#008000" stroke="#008000" stroke-width="0.5" stroke-linejoin="round"/>
<path d="M196.33,376.30L196.92,378.10L198.80,378.10L197.28,379.21L197.86,381.00L196.33,379.89L194.80,381.00L195.39,379.21L193.86,378.10L195.75,378.10Z" fill="#008000" stroke="#008000" stroke-width="0.5" stroke-linejoin="round"/>
<path d="M201.99,385.60L202.58,387.40L204.47,387.40L202.94,388.51L203.52,390.30L201.99,389.19L200.46,390.30L201.05,388.51L199.52,387.40L201.41,387.40Z" fill="#008000" stroke="#008000" stroke-width="0.5" stroke-linejoin="round"/>
<path d="M207.20,384.00L207.78,385.80L209.67,385.80L208.14,386.91L208.73,388.70L207.20,387.59L205.67,388.70L206.26,386.91L204.73,385.80L206.62,385.80Z" fill="#008000" stroke="#008000" stroke-width="0.5" stroke-linejoin="round"/>
<path d="M212.02,388.00L212.61,389.80L214.49,389.80L212.97,390.91L213.55,392.70L212.02,391.59L210.49,392.70L211.08,390.91L209.55,389.80L211.44,389.80Z" fill="#008000" stroke="#008000" stroke-width="0.5" stroke-linejoin="round"/>
<path d="M216.51,389.10L217.09,390.90L218.98,390.90L217.45,392.01L218.04,393.80L216.51,392.69L214.98,393.80L215.57,392.01L214.04,390.90L215.93,390.90Z" fill="#008000" stroke="#008000" stroke-width="0.5" stroke-linejoin="round"/>
<path d="M220.71,390.50L221.29,392.30L223.18,392.30L221.65,393.41L222.24,395.20L220.71,394.09L219.18,395.20L219.76,393.41L218.24,392.30L220.12,392.30Z" fill="#008000" stroke="#008000" stroke-width="0.5" stroke-linejoin="round"/>
<path d="M224.65,392.00L225.24,393.80L227.13,393.80L225.60,394.91L226.18,396.70L224.65,395.59L223.12,396.70L223.71,394.91L222.18,393.80L224.07,393.80Z" fill="#008000" stroke="#008000" stroke-width="0.5" stroke-linejoin="round"/>
<path d="M228.37,393.30L228.96,395.10L230.84,395.10L229.32,396.21L229.90,398.00L228.37,396.89L226.84,398.00L227.43,396.21L225.90,395.10L227.79,395.10Z" fill="#008000" stroke="#008000" stroke-width="0.5" stroke-linejoin="round"/>
<path d="M231.89,394.10L232.47,395.90L234.36,395.90L232.83,397.01L233.42,398.80L231.89,397.69L230.36,398.80L230.94,397.01L229.42,395.90L231.31,395.90Z" fill="#008000" stroke="#008000" stroke-width="0.5" stroke-linejoin="round"/>
<path d="M235.23,396.10L235.81,397.90L237.70,397.90L236.17,399.01L236.75,400.80L235.23,399.69L233.70,400.80L234.28,399.01L232.75,397.90L234.64,397.90Z" fill="#008000" stroke="#008000" stroke-width="0.5" stroke-linejoin="round"/>
<path d="M238.40,396.60L238.98,398.40L240.87,398.40L239.34,399.51L239.93,401.30L238.40,400.19L236.87,401.30L237.46,399.51L235.93,398.40L237.82,398.40Z" fill="#008000" stroke="#008000" stroke-width="0.5" stroke-linejoin="round"/>
<polyline points="40.33,260.90 85.43,262.80 111.80,269.70 130.52,292.60 145.04,308.90 156.90,318.20 166.93,336.20 175.61,346.20 183.28,357.00 190.13,369.40 196.33,378.90 201.99,388.20 207.20,386.60 212.02,390.60 216.51,391.70 220.71,393.10 224.65,394.60 228.37,395.90 231.89,396.70 235.23,398.70 238.40,399.20" fill="none" stroke="#1580b4" stroke-width="1.4" stroke-linejoin="round" stroke-linecap="butt"/>
<circle cx="40.33" cy="261.50" r="2.25" fill="#ff0000"/>
<circle cx="85.43" cy="264.10" r="2.25" fill="#ff0000"/>
<circle cx="111.80" cy="273.50" r="2.25" fill="#ff0000"/>
<circle cx="130.52" cy="295.80" r="2.25" fill="#ff0000"/>
<circle cx="145.04" cy="315.30" r="2.25" fill="#ff0000"/>
<circle cx="156.90" cy="323.80" r="2.25" fill="#ff0000"/>
<circle cx="166.93" cy="346.80" r="2.25" fill="#ff0000"/>
<circle cx="175.61" cy="360.80" r="2.25" fill="#ff0000"/>
<circle cx="183.28" cy="369.20" r="2.25" fill="#ff0000"/>
<circle cx="190.13" cy="378.70" r="2.25" fill="#ff0000"/>
<circle cx="196.33" cy="390.80" r="2.25" fill="#ff0000"/>
<circle cx="201.99" cy="391.50" r="2.25" fill="#ff0000"/>
<circle cx="207.20" cy="393.90" r="2.25" fill="#ff0000"/>
<circle cx="212.02" cy="394.80" r="2.25" fill="#ff0000"/>
<circle cx="216.51" cy="394.70" r="2.25" fill="#ff0000"/>
<circle cx="220.71" cy="395.70" r="2.25" fill="#ff0000"/>
<circle cx="224.65" cy="396.30" r="2.25" fill="#ff0000"/>
<circle cx="228.37" cy="396.60" r="2.25" fill="#ff0000"/>
<circle cx="231.89" cy="396.90" r="2.25" fill="#ff0000"/>
<circle cx="235.23" cy="398.90" r="2.25" fill="#ff0000"/>
<circle cx="238.40" cy="399.40" r="2.25" fill="#ff0000"/>
<polyline points="40.33,261.50 85.43,264.10 111.80,273.50 130.52,295.80 145.04,315.30 156.90,323.80 166.93,346.80 175.61,360.80 183.28,369.20 190.13,378.70 196.33,390.80 201.99,391.50 207.20,393.90 212.02,394.80 216.51,394.70 220.71,395.70 224.65,396.30 228.37,396.60 231.89,396.90 235.23,398.90 238.40,399.40" fill="none" stroke="#ff7f14" stroke-width="1.4" stroke-linejoin="round" stroke-linecap="butt"/>
<path d="M38.13,260.40L42.53,264.80M38.13,264.80L42.53,260.40" stroke="#ffa500" stroke-width="0.75" fill="none"/>
<path d="M83.23,263.20L87.63,267.60M83.23,267.60L87.63,263.20" stroke="#ffa500" stroke-width="0.75" fill="none"/>
<path d="M109.60,273.30L114.00,277.70M109.60,277.70L114.00,273.30" stroke="#ffa500" stroke-width="0.75" fill="none"/>
<path d="M128.32,294.90L132.72,299.30M128.32,299.30L132.72,294.90" stroke="#ffa500" stroke-width="0.75" fill="none"/>
<path d="M142.84,316.50L147.24,320.90M142.84,320.90L147.24,316.50" stroke="#ffa500" stroke-width="0.75" fill="none"/>
<path d="M154.70,322.90L159.10,327.30M154.70,327.30L159.10,322.90" stroke="#ffa500" stroke-width="0.75" fill="none"/>
<path d="M164.73,349.70L169.13,354.10M164.73,354.10L169.13,349.70" stroke="#ffa500" stroke-width="0.75" fill="none"/>
<path d="M173.41,364.30L177.81,368.70M173.41,368.70L177.81,364.30" stroke="#ffa500" stroke-width="0.75" fill="none"/>
<path d="M181.08,367.60L185.48,372.00M181.08,372.00L185.48,367.60" stroke="#ffa500" stroke-width="0.75" fill="none"/>
<path d="M187.93,378.40L192.33,382.80M187.93,382.80L192.33,378.40" stroke="#ffa500" stroke-width="0.75" fill="none"/>
<path d="M194.13,390.00L198.53,394.40M194.13,394.40L198.53,390.00" stroke="#ffa500" stroke-width="0.75" fill="none"/>
<path d="M199.79,391.70L204.19,396.10M199.79,396.10L204.19,391.70" stroke="#ffa500" stroke-width="0.75" fill="none"/>
<path d="M205.00,394.30L209.40,398.70M205.00,398.70L209.40,394.30" stroke="#ffa500" stroke-width="0.75" fill="none"/>
<path d="M209.82,397.00L214.22,401.40M209.82,401.40L214.22,397.00" stroke="#ffa500" stroke-width="0.75" fill="none"/>
<path d="M214.31,399.40L218.71,403.80M214.31,403.80L218.71,399.40" stroke="#ffa500" stroke-width="0.75" fill="none"/>
<path d="M218.51,400.60L222.91,405.00M218.51,405.00L222.91,400.60" stroke="#ffa500" stroke-width="0.75" fill="none"/>
<path d="M222.45,401.10L226.85,405.50M222.45,405.50L226.85,401.10" stroke="#ffa500" stroke-width="0.75" fill="none"/>
<path d="M226.17,401.60L230.57,406.00M226.17,406.00L230.57,401.60" stroke="#ffa500" stroke-width="0.75" fill="none"/>
<path d="M229.69,401.90L234.09,406.30M229.69,406.30L234.09,401.90" stroke="#ffa500" stroke-width="0.75" fill="none"/>
<path d="M233.03,403.50L237.43,407.90M233.03,407.90L237.43,403.50" stroke="#ffa500" stroke-width="0.75" fill="none"/>
<path d="M236.20,403.70L240.60,408.10M236.20,408.10L240.60,403.70" stroke="#ffa500" stroke-width="0.75" fill="none"/>
<polyline points="40.33,262.60 85.43,265.40 111.80,275.50 130.52,297.10 145.04,318.70 156.90,325.10 166.93,351.90 175.61,366.50 183.28,369.80 190.13,380.60 196.33,392.20 201.99,393.90 207.20,396.50 212.02,399.20 216.51,401.60 220.71,402.80 224.65,403.30 228.37,403.80 231.89,404.10 235.23,405.70 238.40,405.90" fill="none" stroke="#26a32d" stroke-width="1.4" stroke-linejoin="round" stroke-linecap="butt"/>
<circle cx="40.33" cy="263.80" r="2.85" fill="#0000ff"/>
<circle cx="85.43" cy="268.50" r="2.85" fill="#0000ff"/>
<circle cx="111.80" cy="280.50" r="2.85" fill="#0000ff"/>
<circle cx="130.52" cy="300.40" r="2.85" fill="#0000ff"/>
<circle cx="145.04" cy="326.40" r="2.85" fill="#0000ff"/>
<circle cx="156.90" cy="334.80" r="2.85" fill="#0000ff"/>
<circle cx="166.93" cy="355.70" r="2.85" fill="#0000ff"/>
<circle cx="175.61" cy="369.10" r="2.85" fill="#0000ff"/>
<circle cx="183.28" cy="376.20" r="2.85" fill="#0000ff"/>
<circle cx="190.13" cy="393.10" r="2.85" fill="#0000ff"/>
<circle cx="196.33" cy="394.30" r="2.85" fill="#0000ff"/>
<circle cx="201.99" cy="396.40" r="2.85" fill="#0000ff"/>
<circle cx="207.20" cy="399.10" r="2.85" fill="#0000ff"/>
<circle cx="212.02" cy="401.30" r="2.85" fill="#0000ff"/>
<circle cx="216.51" cy="402.00" r="2.85" fill="#0000ff"/>
<circle cx="220.71" cy="403.00" r="2.85" fill="#0000ff"/>
<circle cx="224.65" cy="403.50" r="2.85" fill="#0000ff"/>
<circle cx="228.37" cy="404.00" r="2.85" fill="#0000ff"/>
<circle cx="231.89" cy="404.30" r="2.85" fill="#0000ff"/>
<circle cx="235.23" cy="406.10" r="2.85" fill="#0000ff"/>
<circle cx="238.40" cy="406.10" r="2.85" fill="#0000ff"/>
<polyline points="40.33,263.80 85.43,268.50 111.80,280.50 130.52,300.40 145.04,326.40 156.90,334.80 166.93,355.70 175.61,369.10 183.28,376.20 190.13,393.10 196.33,394.30 201.99,396.40 207.20,399.10 212.02,401.30 216.51,402.00 220.71,403.00 224.65,403.50 228.37,404.00 231.89,404.30 235.23,406.10 238.40,406.10" fill="none" stroke="#de2c50" stroke-width="1.4" stroke-linejoin="round" stroke-linecap="butt"/>
</g>
<path d="M30.5,253.5V413.6M248.8,253.5V413.6" fill="none" stroke="#1a1a1a" stroke-width="0.6"/>
<path d="M30.2,253.8H249.10000000000002M30.2,413.3H249.10000000000002" fill="none" stroke="#1a1a1a" stroke-width="0.8"/>
<path d="M88.60,413.3v2.1M30.5,341.90h-2.1M238.40,413.3v2.1M30.5,260.50h-2.1M30.5,398.80h-1.2M30.5,384.46h-1.2M30.5,374.29h-1.2M43.51,413.3v1.2M30.5,366.40h-1.2M55.37,413.3v1.2M30.5,359.96h-1.2M65.40,413.3v1.2M30.5,354.51h-1.2M74.08,413.3v1.2M30.5,349.79h-1.2M81.75,413.3v1.2M30.5,345.62h-1.2M133.69,413.3v1.2M30.5,317.40h-1.2M160.07,413.3v1.2M30.5,303.06h-1.2M178.79,413.3v1.2M30.5,292.89h-1.2M193.31,413.3v1.2M30.5,285.00h-1.2M205.17,413.3v1.2M30.5,278.56h-1.2M215.20,413.3v1.2M30.5,273.11h-1.2M223.88,413.3v1.2M30.5,268.39h-1.2M231.55,413.3v1.2M30.5,264.22h-1.2" stroke="#1a1a1a" stroke-width="0.5" fill="none"/>
<text x="88.60" y="424.30" font-size="6.1" text-anchor="middle" fill="#1c1c1c">10<tspan font-size="4.27" dy="-2.56">−1</tspan></text>
<text x="238.70" y="424.30" font-size="6.1" text-anchor="middle" fill="#1c1c1c">10<tspan font-size="4.27" dy="-2.56">0</tspan></text>
<text x="26.10" y="263.50" font-size="6.1" text-anchor="end" fill="#1c1c1c">10<tspan font-size="4.27" dy="-2.56">0</tspan></text>
<text x="26.10" y="344.90" font-size="6.1" text-anchor="end" fill="#1c1c1c">10<tspan font-size="4.27" dy="-2.56">−1</tspan></text>
<text x="139.65" y="432.30" font-size="6.1" text-anchor="middle" fill="#1c1c1c" stroke="#1c1c1c" stroke-width="0.12">q</text>
<text transform="translate(7.50,334.45) rotate(-90)" font-size="6.1" text-anchor="middle" fill="#1c1c1c" stroke="#1c1c1c" stroke-width="0.12">Lp</text>
<text x="139.65" y="249.60" font-size="7.33" text-anchor="middle" fill="#1c1c1c" stroke="#1c1c1c" stroke-width="0.12">CPPS with random link</text>
<rect x="151.60000000000002" y="256.2" width="94.20" height="20.20" rx="1.2" fill="#fff" fill-opacity="0.8" stroke="#dedede" stroke-width="0.5"/>
<path d="M154.00,260.90h12.4" stroke="#008000" stroke-width="1.1" fill="none"/>
<path d="M160.20,258.70L160.69,260.22L162.29,260.22L161.00,261.16L161.49,262.68L160.20,261.74L158.91,262.68L159.40,261.16L158.11,260.22L159.71,260.22Z" fill="#008000" stroke="#008000" stroke-width="0.5" stroke-linejoin="round"/>
<text x="171.10" y="263.10" font-size="6.1" fill="#1c1c1c" stroke="#1c1c1c" stroke-width="0.12"><tspan font-style="oblique">F</tspan><tspan dx="1.3">=</tspan><tspan dx="1.3">30</tspan></text>
<path d="M154.00,270.40h12.4" stroke="#ff0000" stroke-width="1.1" fill="none"/>
<circle cx="160.20" cy="270.40" r="2.25" fill="#ff0000"/>
<text x="171.10" y="272.60" font-size="6.1" fill="#1c1c1c" stroke="#1c1c1c" stroke-width="0.12"><tspan font-style="oblique">F</tspan><tspan dx="1.3">=</tspan><tspan dx="1.3">60</tspan></text>
<path d="M202.30,260.90h12.4" stroke="#ffa500" stroke-width="1.1" fill="none"/>
<path d="M206.30,258.70L210.70,263.10M206.30,263.10L210.70,258.70" stroke="#ffa500" stroke-width="0.75" fill="none"/>
<text x="219.40" y="263.10" font-size="6.1" fill="#1c1c1c" stroke="#1c1c1c" stroke-width="0.12"><tspan font-style="oblique">F</tspan><tspan dx="1.3">=</tspan><tspan dx="1.3">90</tspan></text>
<path d="M202.30,270.40h12.4" stroke="#0000ff" stroke-width="1.1" fill="none"/>
<circle cx="208.50" cy="270.40" r="2.85" fill="#0000ff"/>
<text x="219.40" y="272.60" font-size="6.1" fill="#1c1c1c" stroke="#1c1c1c" stroke-width="0.12"><tspan font-style="oblique">F</tspan><tspan dx="1.3">=</tspan><tspan dx="1.3">118</tspan></text>
</g>
<g id="d">
<clipPath id="clipd"><rect x="328.3" y="249.1" width="218.2" height="160.00000000000003"/></clipPath>
<g clip-path="url(#clipd)">
<circle cx="338.19" cy="257.20" r="2.25" fill="#ff0000"/>
<circle cx="383.14" cy="260.50" r="2.25" fill="#ff0000"/>
<circle cx="409.43" cy="270.80" r="2.25" fill="#ff0000"/>
<circle cx="428.08" cy="293.70" r="2.25" fill="#ff0000"/>
<circle cx="442.55" cy="313.90" r="2.25" fill="#ff0000"/>
<circle cx="454.37" cy="320.80" r="2.25" fill="#ff0000"/>
<circle cx="464.37" cy="346.90" r="2.25" fill="#ff0000"/>
<circle cx="473.02" cy="361.20" r="2.25" fill="#ff0000"/>
<circle cx="480.66" cy="365.60" r="2.25" fill="#ff0000"/>
<circle cx="487.49" cy="374.20" r="2.25" fill="#ff0000"/>
<circle cx="493.67" cy="386.90" r="2.25" fill="#ff0000"/>
<circle cx="499.31" cy="389.70" r="2.25" fill="#ff0000"/>
<circle cx="504.50" cy="392.30" r="2.25" fill="#ff0000"/>
<circle cx="509.31" cy="393.90" r="2.25" fill="#ff0000"/>
<circle cx="513.78" cy="395.00" r="2.25" fill="#ff0000"/>
<circle cx="517.97" cy="396.20" r="2.25" fill="#ff0000"/>
<circle cx="521.90" cy="396.90" r="2.25" fill="#ff0000"/>
<circle cx="525.60" cy="397.50" r="2.25" fill="#ff0000"/>
<circle cx="529.11" cy="398.30" r="2.25" fill="#ff0000"/>
<circle cx="532.44" cy="400.30" r="2.25" fill="#ff0000"/>
<circle cx="535.60" cy="401.00" r="2.25" fill="#ff0000"/>
<polyline points="338.19,257.20 383.14,260.50 409.43,270.80 428.08,293.70 442.55,313.90 454.37,320.80 464.37,346.90 473.02,361.20 480.66,365.60 487.49,374.20 493.67,386.90 499.31,389.70 504.50,392.30 509.31,393.90 513.78,395.00 517.97,396.20 521.90,396.90 525.60,397.50 529.11,398.30 532.44,400.30 535.60,401.00" fill="none" stroke="#1580b4" stroke-width="1.2" stroke-linejoin="round" stroke-linecap="butt"/>
<path d="M335.99,255.70L340.39,260.10M335.99,260.10L340.39,255.70" stroke="#ffa500" stroke-width="0.75" fill="none"/>
<path d="M380.94,260.30L385.34,264.70M380.94,264.70L385.34,260.30" stroke="#ffa500" stroke-width="0.75" fill="none"/>
<path d="M407.23,271.10L411.63,275.50M407.23,275.50L411.63,271.10" stroke="#ffa500" stroke-width="0.75" fill="none"/>
<path d="M425.88,294.50L430.28,298.90M425.88,298.90L430.28,294.50" stroke="#ffa500" stroke-width="0.75" fill="none"/>
<path d="M440.35,315.40L444.75,319.80M440.35,319.80L444.75,315.40" stroke="#ffa500" stroke-width="0.75" fill="none"/>
<path d="M452.17,326.00L456.57,330.40M452.17,330.40L456.57,326.00" stroke="#ffa500" stroke-width="0.75" fill="none"/>
<path d="M462.17,347.30L466.57,351.70M462.17,351.70L466.57,347.30" stroke="#ffa500" stroke-width="0.75" fill="none"/>
<path d="M470.82,362.80L475.22,367.20M470.82,367.20L475.22,362.80" stroke="#ffa500" stroke-width="0.75" fill="none"/>
<path d="M478.46,372.10L482.86,376.50M478.46,376.50L482.86,372.10" stroke="#ffa500" stroke-width="0.75" fill="none"/>
<path d="M485.29,382.60L489.69,387.00M485.29,387.00L489.69,382.60" stroke="#ffa500" stroke-width="0.75" fill="none"/>
<path d="M491.47,388.70L495.87,393.10M491.47,393.10L495.87,388.70" stroke="#ffa500" stroke-width="0.75" fill="none"/>
<path d="M497.11,390.10L501.51,394.50M497.11,394.50L501.51,390.10" stroke="#ffa500" stroke-width="0.75" fill="none"/>
<path d="M502.30,391.20L506.70,395.60M502.30,395.60L506.70,391.20" stroke="#ffa500" stroke-width="0.75" fill="none"/>
<path d="M507.11,392.40L511.51,396.80M507.11,396.80L511.51,392.40" stroke="#ffa500" stroke-width="0.75" fill="none"/>
<path d="M511.58,393.70L515.98,398.10M511.58,398.10L515.98,393.70" stroke="#ffa500" stroke-width="0.75" fill="none"/>
<path d="M515.77,395.10L520.17,399.50M515.77,399.50L520.17,395.10" stroke="#ffa500" stroke-width="0.75" fill="none"/>
<path d="M519.70,395.80L524.10,400.20M519.70,400.20L524.10,395.80" stroke="#ffa500" stroke-width="0.75" fill="none"/>
<path d="M523.40,396.30L527.80,400.70M523.40,400.70L527.80,396.30" stroke="#ffa500" stroke-width="0.75" fill="none"/>
<path d="M526.91,396.80L531.31,401.20M526.91,401.20L531.31,396.80" stroke="#ffa500" stroke-width="0.75" fill="none"/>
<path d="M530.24,398.80L534.64,403.20M530.24,403.20L534.64,398.80" stroke="#ffa500" stroke-width="0.75" fill="none"/>
<path d="M533.40,399.50L537.80,403.90M533.40,403.90L537.80,399.50" stroke="#ffa500" stroke-width="0.75" fill="none"/>
<polyline points="338.19,257.90 383.14,262.50 409.43,273.30 428.08,296.70 442.55,317.60 454.37,328.20 464.37,349.50 473.02,365.00 480.66,374.30 487.49,384.80 493.67,390.90 499.31,392.30 504.50,393.40 509.31,394.60 513.78,395.90 517.97,397.30 521.90,398.00 525.60,398.50 529.11,399.00 532.44,401.00 535.60,401.70" fill="none" stroke="#ff7f14" stroke-width="1.2" stroke-linejoin="round" stroke-linecap="butt"/>
<circle cx="338.19" cy="256.80" r="2.85" fill="#0000ff"/>
<circle cx="383.14" cy="259.10" r="2.85" fill="#0000ff"/>
<circle cx="409.43" cy="269.30" r="2.85" fill="#0000ff"/>
<circle cx="428.08" cy="291.40" r="2.85" fill="#0000ff"/>
<circle cx="442.55" cy="310.50" r="2.85" fill="#0000ff"/>
<circle cx="454.37" cy="319.50" r="2.85" fill="#0000ff"/>
<circle cx="464.37" cy="342.50" r="2.85" fill="#0000ff"/>
<circle cx="473.02" cy="356.80" r="2.85" fill="#0000ff"/>
<circle cx="480.66" cy="365.20" r="2.85" fill="#0000ff"/>
<circle cx="487.49" cy="374.00" r="2.85" fill="#0000ff"/>
<circle cx="493.67" cy="386.60" r="2.85" fill="#0000ff"/>
<circle cx="499.31" cy="387.20" r="2.85" fill="#0000ff"/>
<circle cx="504.50" cy="390.30" r="2.85" fill="#0000ff"/>
<circle cx="509.31" cy="390.80" r="2.85" fill="#0000ff"/>
<circle cx="513.78" cy="391.00" r="2.85" fill="#0000ff"/>
<circle cx="517.97" cy="391.40" r="2.85" fill="#0000ff"/>
<circle cx="521.90" cy="391.70" r="2.85" fill="#0000ff"/>
<circle cx="525.60" cy="392.00" r="2.85" fill="#0000ff"/>
<circle cx="529.11" cy="392.40" r="2.85" fill="#0000ff"/>
<circle cx="532.44" cy="394.60" r="2.85" fill="#0000ff"/>
<circle cx="535.60" cy="395.40" r="2.85" fill="#0000ff"/>
<polyline points="338.19,256.80 383.14,259.10 409.43,269.30 428.08,291.40 442.55,310.50 454.37,319.50 464.37,342.50 473.02,356.80 480.66,365.20 487.49,374.00 493.67,386.60 499.31,387.20 504.50,390.30 509.31,390.80 513.78,391.00 517.97,391.40 521.90,391.70 525.60,392.00 529.11,392.40 532.44,394.60 535.60,395.40" fill="none" stroke="#169a4a" stroke-width="1.2" stroke-linejoin="round" stroke-linecap="butt"/>
</g>
<path d="M328.3,248.79999999999998V409.40000000000003M546.5,248.79999999999998V409.40000000000003" fill="none" stroke="#1a1a1a" stroke-width="0.6"/>
<path d="M328.0,249.1H546.8M328.0,409.1H546.8" fill="none" stroke="#1a1a1a" stroke-width="0.8"/>
<path d="M386.30,409.1v2.1M328.3,337.50h-2.1M535.60,409.1v2.1M328.3,256.10h-2.1M328.3,394.40h-1.2M328.3,380.06h-1.2M328.3,369.89h-1.2M341.36,409.1v1.2M328.3,362.00h-1.2M353.18,409.1v1.2M328.3,355.56h-1.2M363.17,409.1v1.2M328.3,350.11h-1.2M371.83,409.1v1.2M328.3,345.39h-1.2M379.47,409.1v1.2M328.3,341.22h-1.2M431.24,409.1v1.2M328.3,313.00h-1.2M457.53,409.1v1.2M328.3,298.66h-1.2M476.19,409.1v1.2M328.3,288.49h-1.2M490.66,409.1v1.2M328.3,280.60h-1.2M502.48,409.1v1.2M328.3,274.16h-1.2M512.47,409.1v1.2M328.3,268.71h-1.2M521.13,409.1v1.2M328.3,263.99h-1.2M528.77,409.1v1.2M328.3,259.82h-1.2" stroke="#1a1a1a" stroke-width="0.5" fill="none"/>
<text x="386.30" y="420.10" font-size="6.1" text-anchor="middle" fill="#1c1c1c">10<tspan font-size="4.27" dy="-2.56">−1</tspan></text>
<text x="535.90" y="420.10" font-size="6.1" text-anchor="middle" fill="#1c1c1c">10<tspan font-size="4.27" dy="-2.56">0</tspan></text>
<text x="323.90" y="259.10" font-size="6.1" text-anchor="end" fill="#1c1c1c">10<tspan font-size="4.27" dy="-2.56">0</tspan></text>
<text x="323.90" y="340.50" font-size="6.1" text-anchor="end" fill="#1c1c1c">10<tspan font-size="4.27" dy="-2.56">−1</tspan></text>
<text x="437.40" y="428.10" font-size="6.1" text-anchor="middle" fill="#1c1c1c" stroke="#1c1c1c" stroke-width="0.12">q</text>
<text transform="translate(305.30,330.00) rotate(-90)" font-size="6.1" text-anchor="middle" fill="#1c1c1c" stroke="#1c1c1c" stroke-width="0.12">Lp</text>
<text x="437.40" y="244.90" font-size="7.33" text-anchor="middle" fill="#1c1c1c" stroke="#1c1c1c" stroke-width="0.12">comparison of three interdependent models</text>
<rect x="454.0" y="252.0" width="89.20" height="20.00" rx="1.2" fill="#fff" fill-opacity="0.8" stroke="#dedede" stroke-width="0.5"/>
<path d="M456.20,256.70h12.4" stroke="#ff0000" stroke-width="1.1" fill="none"/>
<circle cx="462.40" cy="256.70" r="2.25" fill="#ff0000"/>
<text x="473.30" y="258.90" font-size="6.1" fill="#1c1c1c" stroke="#1c1c1c" stroke-width="0.12"><tspan font-style="oblique">D</tspan><tspan dx="1.2">−</tspan><tspan dx="1.2" font-style="oblique">ED</tspan></text>
<path d="M456.20,266.30h12.4" stroke="#ffa500" stroke-width="1.1" fill="none"/>
<path d="M460.20,264.10L464.60,268.50M460.20,268.50L464.60,264.10" stroke="#ffa500" stroke-width="0.75" fill="none"/>
<text x="473.30" y="268.50" font-size="6.1" fill="#1c1c1c" stroke="#1c1c1c" stroke-width="0.12"><tspan font-style="oblique">D</tspan><tspan dx="1.2">−</tspan><tspan dx="1.2" font-style="oblique">B</tspan></text>
<path d="M506.30,256.70h12.4" stroke="#0000ff" stroke-width="1.1" fill="none"/>
<circle cx="512.50" cy="256.70" r="2.85" fill="#0000ff"/>
<text x="523.40" y="258.90" font-size="6.1" fill="#1c1c1c" stroke="#1c1c1c" stroke-width="0.12"><tspan font-style="oblique">R</tspan><tspan dx="1.2">−</tspan><tspan dx="1.2" font-style="oblique">R</tspan></text>
<rect x="344.2" y="333.4" width="91.80" height="66.10" fill="#fff"/>
<clipPath id="clipi"><rect x="344.2" y="333.4" width="91.80" height="66.10"/></clipPath>
<g clip-path="url(#clipi)">
<circle cx="358.77" cy="360.57" r="1.12" fill="#ff0000"/>
<circle cx="374.00" cy="363.50" r="1.12" fill="#ff0000"/>
<circle cx="386.88" cy="374.60" r="1.12" fill="#ff0000"/>
<circle cx="398.04" cy="380.67" r="1.12" fill="#ff0000"/>
<circle cx="407.88" cy="382.54" r="1.12" fill="#ff0000"/>
<circle cx="416.69" cy="386.20" r="1.12" fill="#ff0000"/>
<circle cx="424.65" cy="391.60" r="1.12" fill="#ff0000"/>
<circle cx="431.92" cy="392.79" r="1.12" fill="#ff0000"/>
<circle cx="438.61" cy="393.89" r="1.12" fill="#ff0000"/>
<polyline points="224.28,336.47 282.20,337.87 316.08,342.25 340.12,351.98 358.77,360.57 374.00,363.50 386.88,374.60 398.04,380.67 407.88,382.54 416.69,386.20 424.65,391.60 431.92,392.79 438.61,393.89 444.80,394.57 450.57,395.04 455.96,395.55 461.03,395.85 465.80,396.10 470.32,396.44 474.61,397.29 478.68,397.59" fill="none" stroke="#1580b4" stroke-width="0.65" stroke-linejoin="round" stroke-linecap="butt"/>
<path d="M357.70,361.07L359.84,363.21M357.70,363.21L359.84,361.07" stroke="#ffa500" stroke-width="0.75" fill="none"/>
<path d="M372.93,365.58L375.07,367.72M372.93,367.72L375.07,365.58" stroke="#ffa500" stroke-width="0.75" fill="none"/>
<path d="M385.82,374.63L387.95,376.77M385.82,376.77L387.95,374.63" stroke="#ffa500" stroke-width="0.75" fill="none"/>
<path d="M396.97,381.22L399.11,383.36M396.97,383.36L399.11,381.22" stroke="#ffa500" stroke-width="0.75" fill="none"/>
<path d="M406.82,385.17L408.95,387.31M406.82,387.31L408.95,385.17" stroke="#ffa500" stroke-width="0.75" fill="none"/>
<path d="M415.62,389.64L417.76,391.77M415.62,391.77L417.76,389.64" stroke="#ffa500" stroke-width="0.75" fill="none"/>
<path d="M423.58,392.23L425.72,394.37M423.58,394.37L425.72,392.23" stroke="#ffa500" stroke-width="0.75" fill="none"/>
<path d="M430.85,392.82L432.99,394.96M430.85,394.96L432.99,392.82" stroke="#ffa500" stroke-width="0.75" fill="none"/>
<path d="M437.54,393.29L439.68,395.43M437.54,395.43L439.68,393.29" stroke="#ffa500" stroke-width="0.75" fill="none"/>
<polyline points="224.28,336.77 282.20,338.72 316.08,343.31 340.12,353.26 358.77,362.14 374.00,366.65 386.88,375.70 398.04,382.29 407.88,386.24 416.69,390.71 424.65,393.30 431.92,393.89 438.61,394.36 444.80,394.87 450.57,395.42 455.96,396.02 461.03,396.32 465.80,396.53 470.32,396.74 474.61,397.59 478.68,397.89" fill="none" stroke="#ff7f14" stroke-width="0.65" stroke-linejoin="round" stroke-linecap="butt"/>
<circle cx="358.77" cy="359.12" r="1.37" fill="#0000ff"/>
<circle cx="374.00" cy="362.95" r="1.37" fill="#0000ff"/>
<circle cx="386.88" cy="372.73" r="1.37" fill="#0000ff"/>
<circle cx="398.04" cy="378.80" r="1.37" fill="#0000ff"/>
<circle cx="407.88" cy="382.37" r="1.37" fill="#0000ff"/>
<circle cx="416.69" cy="386.11" r="1.37" fill="#0000ff"/>
<circle cx="424.65" cy="391.47" r="1.37" fill="#0000ff"/>
<circle cx="431.92" cy="391.73" r="1.37" fill="#0000ff"/>
<circle cx="438.61" cy="393.04" r="1.37" fill="#0000ff"/>
<polyline points="224.28,336.30 282.20,337.28 316.08,341.61 340.12,351.00 358.77,359.12 374.00,362.95 386.88,372.73 398.04,378.80 407.88,382.37 416.69,386.11 424.65,391.47 431.92,391.73 438.61,393.04 444.80,393.26 450.57,393.34 455.96,393.51 461.03,393.64 465.80,393.77 470.32,393.94 474.61,394.87 478.68,395.21" fill="none" stroke="#169a4a" stroke-width="0.65" stroke-linejoin="round" stroke-linecap="butt"/>
</g>
<rect x="344.2" y="333.4" width="91.80" height="66.10" fill="none" stroke="#888" stroke-width="0.45"/>
<text x="344.20" y="403.60" font-size="2.8" text-anchor="middle" fill="#444">2×10<tspan font-size="1.96" dy="-1">−1</tspan></text>
<text x="378.08" y="403.60" font-size="2.8" text-anchor="middle" fill="#444">3×10<tspan font-size="1.96" dy="-1">−1</tspan></text>
<text x="402.12" y="403.60" font-size="2.8" text-anchor="middle" fill="#444">4×10<tspan font-size="1.96" dy="-1">−1</tspan></text>
<text x="436.00" y="403.60" font-size="2.8" text-anchor="middle" fill="#444">6×10<tspan font-size="1.96" dy="-1">−1</tspan></text>
<text x="342.60" y="337.00" font-size="2.8" text-anchor="end" fill="#444">10<tspan font-size="1.96" dy="-1.18">0</tspan></text>
<text x="342.60" y="371.60" font-size="2.8" text-anchor="end" fill="#444">10<tspan font-size="1.96" dy="-1.18">−1</tspan></text>
<rect x="396.5" y="334.6" width="38.2" height="8.2" rx="0.5" fill="#fff" fill-opacity="0.8" stroke="#ddd" stroke-width="0.3"/>
<path d="M398,336.6h5.2" stroke="#ff0000" stroke-width="0.5"/>
<circle cx="400.60" cy="336.60" r="1.05" fill="#ff0000"/>
<text x="405.2" y="337.5" font-size="2.8" fill="#444"><tspan font-style="oblique">D</tspan><tspan dx="1.2">−</tspan><tspan dx="1.2" font-style="oblique">ED</tspan></text>
<path d="M398,340.6h5.2" stroke="#ffa500" stroke-width="0.5"/>
<path d="M399.60,339.60L401.60,341.60M399.60,341.60L401.60,339.60" stroke="#ffa500" stroke-width="0.75" fill="none"/>
<text x="405.2" y="341.5" font-size="2.8" fill="#444"><tspan font-style="oblique">D</tspan><tspan dx="1.2">−</tspan><tspan dx="1.2" font-style="oblique">B</tspan></text>
<path d="M420.3,336.6h5.2" stroke="#0000ff" stroke-width="0.5"/>
<circle cx="422.90" cy="336.60" r="1.05" fill="#0000ff"/>
<text x="427.5" y="337.5" font-size="2.8" fill="#444"><tspan font-style="oblique">R</tspan><tspan dx="1.2">−</tspan><tspan dx="1.2" font-style="oblique">R</tspan></text>
</g>
</svg>
</body></html>
